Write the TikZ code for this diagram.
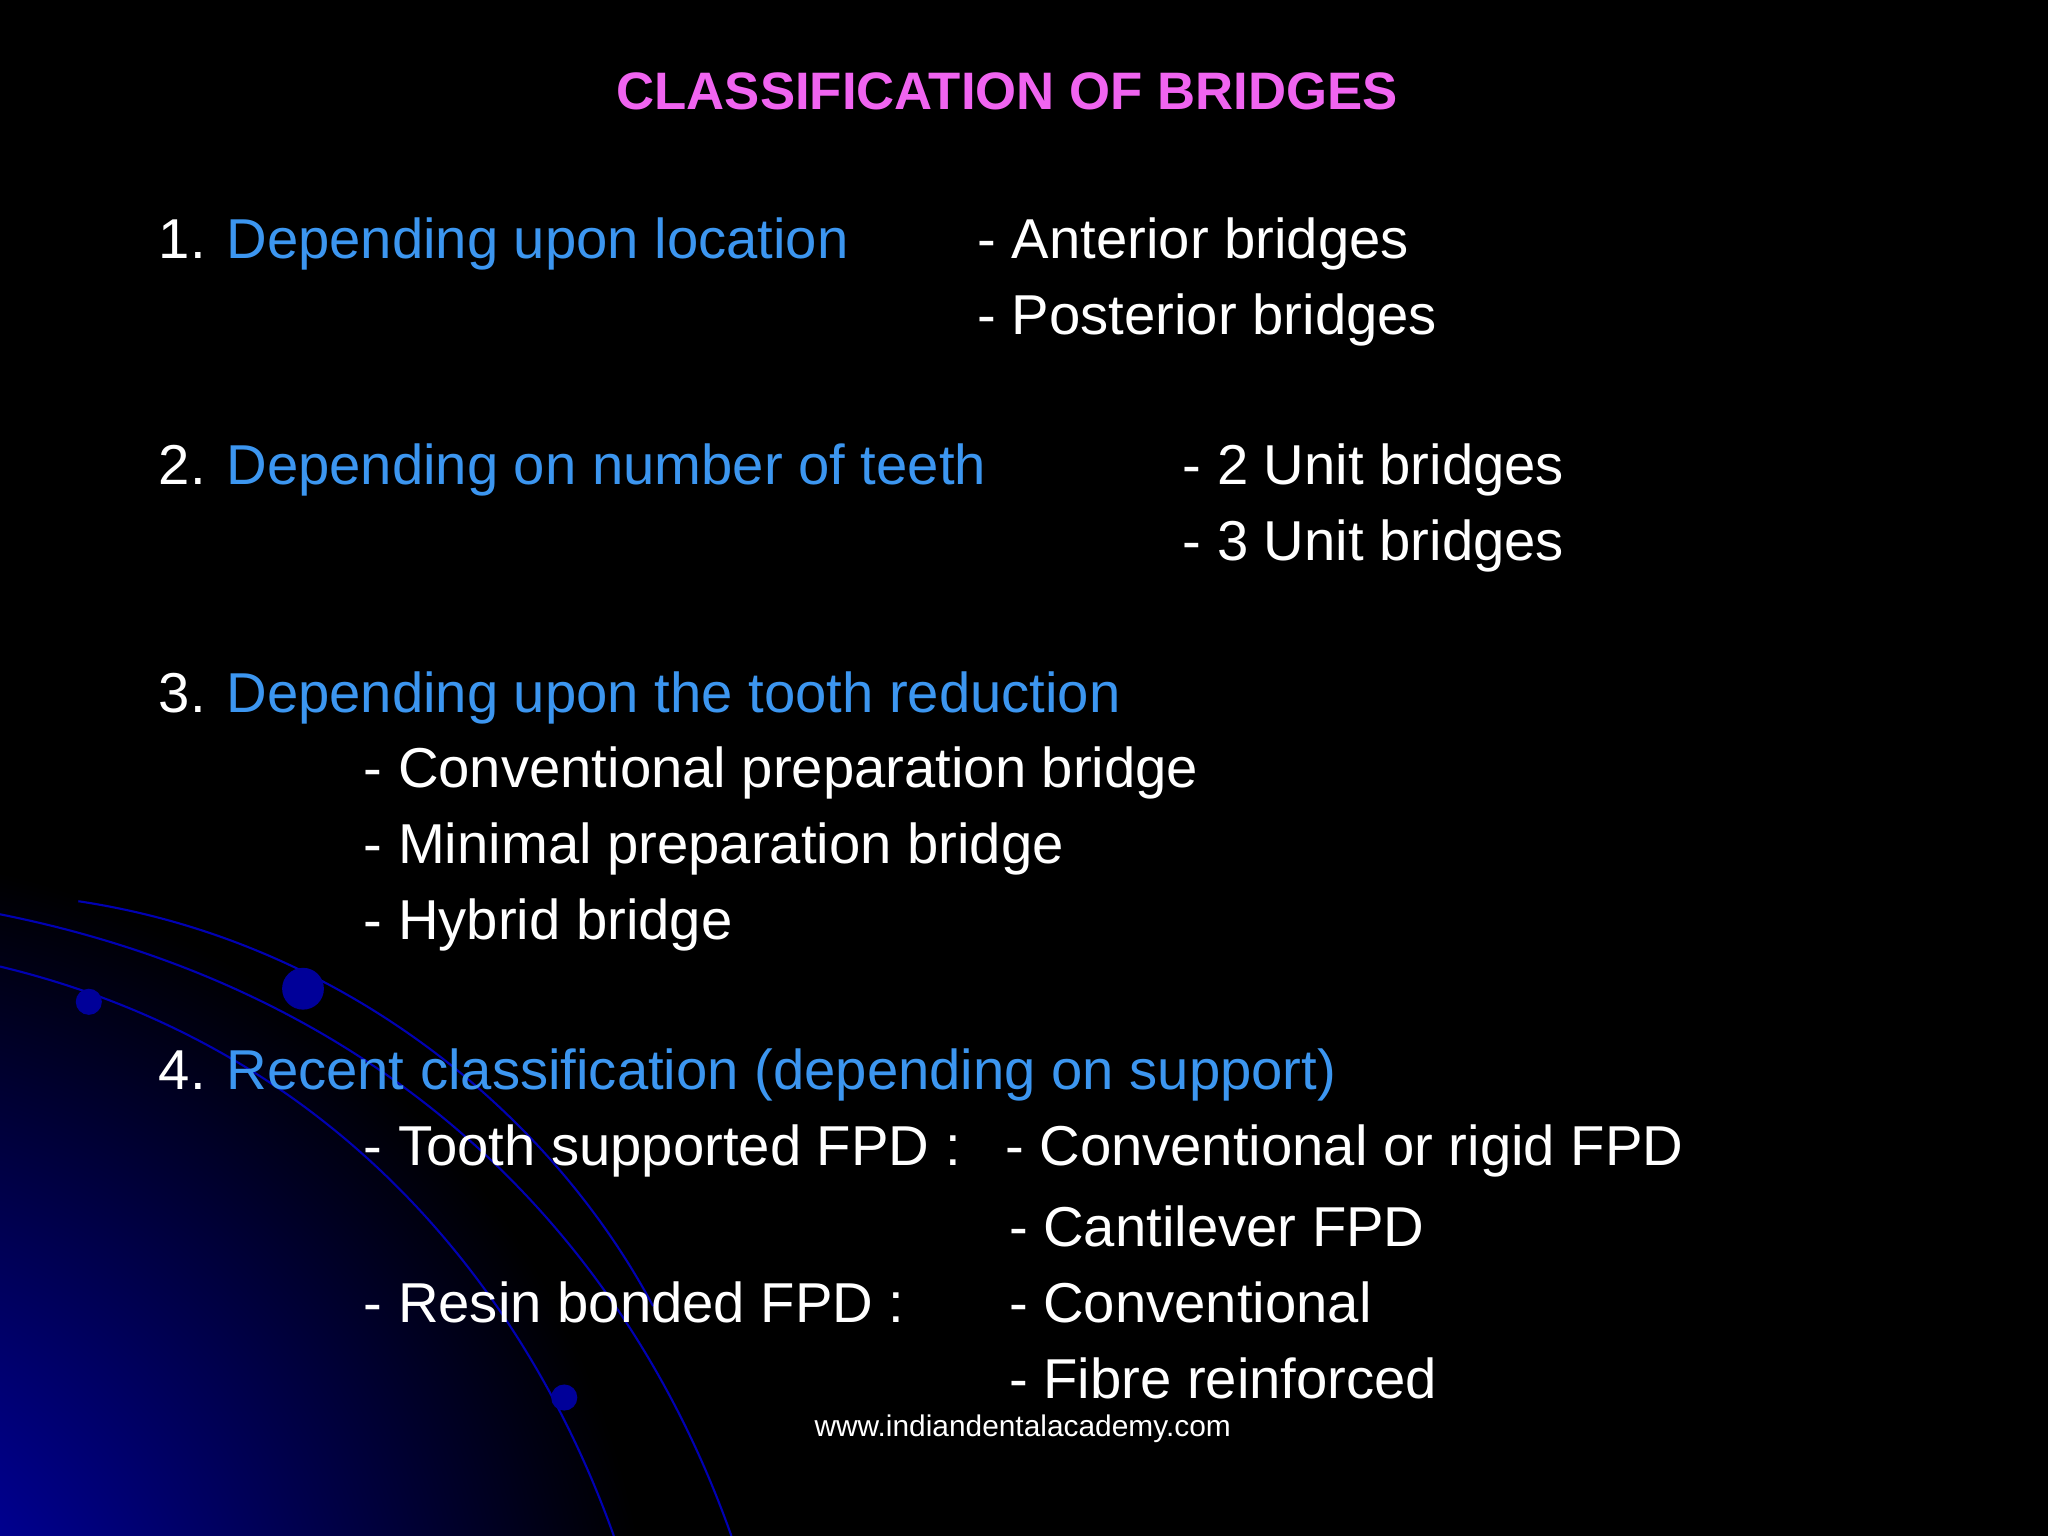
\documentclass[tikz,border=0pt]{standalone}
\usepackage{fontspec}
\setmainfont{Liberation Sans}
\definecolor{ttl}{RGB}{240,100,240}
\definecolor{hd}{RGB}{60,150,240}
\begin{document}
\begin{tikzpicture}[x=0.01306cm,y=-0.01306cm,
  t/.style={anchor=west,text=white,font=\fontsize{16}{19}\selectfont,inner sep=0pt},
  arcl/.style={draw=blue!70!black,line width=0.6pt}]
\fill[black] (0,0) rectangle (1568,1176);
\begin{scope}
\clip (0,0) rectangle (1568,1176);
\shade[inner color=blue!80!black,outer color=black] (-150,1300) circle (650);
\draw[arcl] (0,700) .. controls (300,760) and (480,950) .. (560,1176);
\draw[arcl] (0,740) .. controls (250,800) and (400,980) .. (470,1176);
\draw[arcl] (60,690) .. controls (260,720) and (420,850) .. (500,1000);
\fill[blue!60!black] (68,767) circle (10);
\fill[blue!60!black] (232,757) circle (16);
\fill[blue!60!black] (432,1070) circle (10);
\end{scope}
\node[inner sep=0pt,text=ttl,font=\fontsize{15}{18}\selectfont\bfseries] (title) at (771,70) {CLASSIFICATION OF BRIDGES};
\node[t] (a1) at (121,187) {1. \textcolor{hd}{Depending upon location}};
\node[t] (a2) at (748,187) {- Anterior bridges};
\node[t] (a3) at (748,245) {- Posterior bridges};
\node[t] (b1) at (121,360) {2. \textcolor{hd}{Depending on number of teeth}};
\node[t] (b2) at (905,360) {- 2 Unit bridges};
\node[t] (b3) at (905,418) {- 3 Unit bridges};
\node[t] (c1) at (121,534) {3. \textcolor{hd}{Depending upon the tooth reduction}};
\node[t] (c2) at (278,592) {- Conventional preparation bridge};
\node[t] (c3) at (278,650) {- Minimal preparation bridge};
\node[t] (c4) at (278,708) {- Hybrid bridge};
\node[t] (d1) at (121,823) {4. \textcolor{hd}{Recent classification (depending on support)}};
\node[t] (d2) at (278,881) {- Tooth supported FPD :};
\node[t] (d3) at (769,881) {- Conventional or rigid FPD};
\node[t] (d4) at (772,939) {- Cantilever FPD};
\node[t] (d5) at (278,997) {- Resin bonded FPD :};
\node[t] (d6) at (772,997) {- Conventional};
\node[t] (d7) at (772,1055) {- Fibre reinforced};
\node[text=white,inner sep=0pt,font=\fontsize{8.5}{10}\selectfont] (foot) at (783,1094) {www.indiandentalacademy.com};
\end{tikzpicture}
\end{document}
